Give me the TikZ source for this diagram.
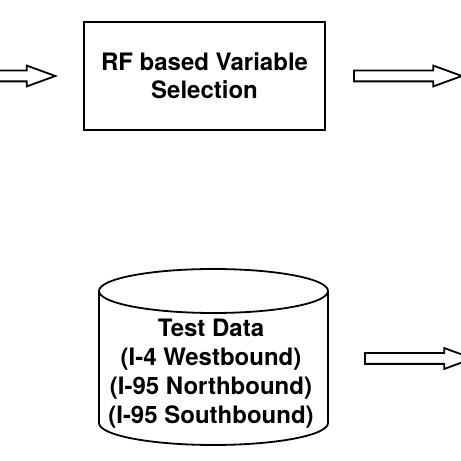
\documentclass[tikz,border=0pt]{standalone}
\usepackage{tikz}
\usetikzlibrary{positioning,shapes.arrows}
\usepackage{fontspec}
\setmainfont{TeX Gyre Heros}

\begin{document}
\begin{tikzpicture}[x=1pt,y=1pt,node distance=25pt,
        every node/.style={font=\fontsize{24}{28}\selectfont\bfseries},
        block/.style={draw,line width=2pt,minimum width=241pt,minimum height=108pt,align=center},
        fat/.style={single arrow,draw,line width=1.8pt,inner sep=4.5pt,
            single arrow head extend=5pt,single arrow tip angle=40,
            single arrow head indent=0pt},
        dbtext/.style={align=center,font=\fontsize{24}{29}\selectfont\bfseries}]

    \useasboundingbox (0,0) rectangle (461,461);

    \node[block] (sel) at (204.5,385) {RF based Variable\\Selection};
    \node[fat,minimum height=70pt] (in) [left=25pt of sel] {};
    \node[fat,minimum height=108pt] (out) [right=27pt of sel] {};

    \draw[line width=1.8pt] (99,170) -- (99,38) arc[start angle=180,end angle=360,x radius=114.5,y radius=22] -- (328,170);
    \draw[line width=1.8pt] (213.5,170) ellipse [x radius=114.5,y radius=22];
    \node[dbtext] (test) at (211,87) {Test Data\\(I-4 Westbound)\\(I-95 Northbound)\\(I-95 Southbound)};
    \node[fat,minimum height=108pt,anchor=west] (testout) at (364,102.5) {};

    \end{tikzpicture}
\end{document}
